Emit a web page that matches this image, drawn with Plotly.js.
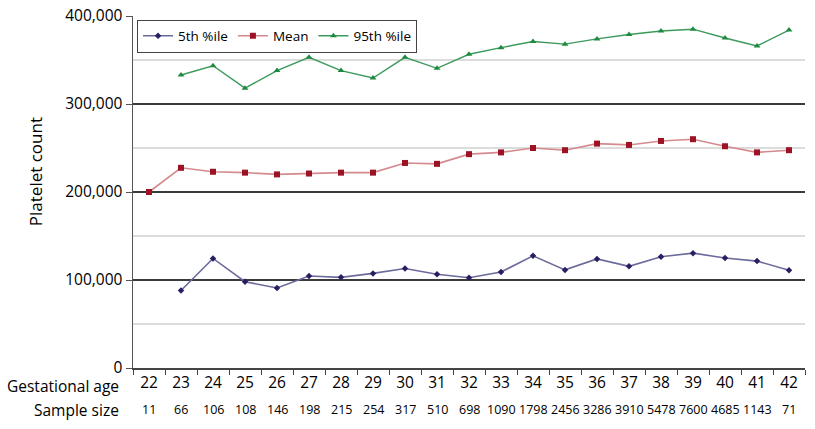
<!DOCTYPE html>
<html>
<head>
<meta charset="utf-8">
<script src="https://cdn.plot.ly/plotly-3.0.1.min.js"></script>
<style>html,body{margin:0;padding:0;background:#fff;}#chart{width:815px;height:429px;}</style>
</head>
<body>
<div id="chart"></div>
<script>
var gestationalAge = ["22","23","24","25","26","27","28","29","30","31","32","33","34","35","36","37","38","39","40","41","42"];
var sampleSize = [11,66,106,108,146,198,215,254,317,510,698,1090,1798,2456,3286,3910,5478,7600,4685,1143,71];
var p5 = [null,88000,124500,98000,91000,104500,103000,107500,113000,106500,102500,109000,127500,111500,124000,115500,126500,130500,125000,121500,111000];
var meanVals = [200000,227500,223000,222000,220000,221000,222000,222000,233000,232000,243000,245000,250000,247500,255000,253500,258000,260000,252000,245000,247500];
var p95 = [null,333000,343500,318000,338000,353000,338000,329500,353000,340500,356500,364000,371000,368000,374000,379000,383000,385000,375000,366000,384000];

var FONT = "Open Sans, Lato, sans-serif";

var traces = [
  {x: gestationalAge, y: p5, name: "5th %ile", type: "scatter", mode: "lines+markers",
   line: {color: "#6b6b9c", width: 1.6}, marker: {symbol: "diamond", size: 5, color: "#2a1e63"}},
  {x: gestationalAge, y: meanVals, name: "Mean", type: "scatter", mode: "lines+markers",
   line: {color: "#d48a8f", width: 1.6}, marker: {symbol: "square", size: 6, color: "#9c1326"}},
  {x: gestationalAge, y: p95, name: "95th %ile", type: "scatter", mode: "lines+markers",
   line: {color: "#3c9a5c", width: 1.4}, marker: {symbol: "triangle-up", size: 6, color: "#1e8a3f"}}
];

var annotations = [];
for (var i = 0; i < gestationalAge.length; i++) {
  annotations.push({x: i, y: -0.119, xref: "x", yref: "paper",
    text: String(sampleSize[i]), showarrow: false, yanchor: "middle", xanchor: "center",
    font: {family: FONT, size: 12.5, color: "#000"}});
}
annotations.push({x: -0.018, y: -0.051, xref: "paper", yref: "paper", text: "Gestational age",
  showarrow: false, xanchor: "right", yanchor: "middle", font: {family: FONT, size: 15.5, color: "#000"}});
annotations.push({x: -0.018, y: -0.119, xref: "paper", yref: "paper", text: "Sample size",
  showarrow: false, xanchor: "right", yanchor: "middle", font: {family: FONT, size: 15.5, color: "#000"}});
annotations.push({x: -0.144, y: 0.557, xref: "paper", yref: "paper", text: "Platelet count",
  showarrow: false, textangle: -90, xanchor: "center", yanchor: "middle", font: {family: FONT, size: 17, color: "#000"}});

var layout = {
  width: 815, height: 429,
  margin: {l: 133, r: 10, t: 16, b: 61},
  paper_bgcolor: "#fff", plot_bgcolor: "#fff",
  font: {family: FONT, color: "#000"},
  showlegend: true,
  legend: {orientation: "h", x: 0.006, y: 0.99, xanchor: "left", yanchor: "top",
    bgcolor: "#fff", bordercolor: "#444", borderwidth: 1, itemwidth: 30,
    font: {family: FONT, size: 13.5, color: "#000"}, tracegroupgap: 0},
  xaxis: {type: "category", range: [-0.5, 20.5], showgrid: false, zeroline: false,
    showline: true, linecolor: "#444", linewidth: 1.5,
    ticks: "outside", tickson: "boundaries", ticklen: 5, tickcolor: "#444",
    tickfont: {family: FONT, size: 15.5, color: "#000"}, fixedrange: true},
  yaxis: {range: [0, 400000], dtick: 100000, tick0: 0, tickformat: ",d",
    showgrid: true, gridcolor: "#3a3a3a", gridwidth: 1.3, zeroline: false,
    showline: true, linecolor: "#555", linewidth: 1.5,
    ticks: "outside", ticklen: 6, tickcolor: "#555",
    tickfont: {family: FONT, size: 15.5, color: "#000"},
    minor: {dtick: 50000, showgrid: true, gridcolor: "#dcdcdc", gridwidth: 1.3, ticks: ""},
    fixedrange: true},
  annotations: annotations
};

Plotly.newPlot("chart", traces, layout, {displayModeBar: false, staticPlot: true});
</script>
</body>
</html>
